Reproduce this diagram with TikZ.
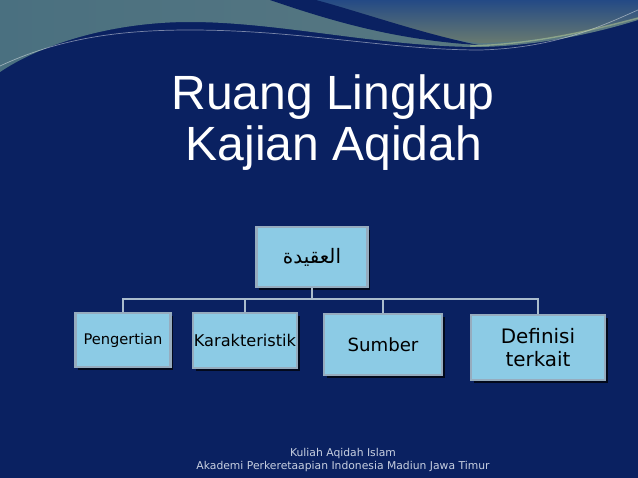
\documentclass[tikz,border=0pt]{standalone}
\usepackage{fontspec}
\setmainfont{DejaVu Sans}
\newfontfamily\titlefont{Liberation Sans}
\newfontfamily\arabicfont[Script=Arabic]{DejaVu Sans}
\TeXXeTstate=1
\usetikzlibrary{shadows}
\definecolor{navy}{RGB}{10,33,97}
\definecolor{boxfill}{RGB}{140,203,229}
\definecolor{boxline}{RGB}{150,172,190}
\definecolor{linkcol}{RGB}{170,188,205}
\definecolor{footcol}{RGB}{200,208,225}
\definecolor{streak}{RGB}{190,210,150}
\begin{document}
\begin{tikzpicture}[x=0.03cm,y=-0.03cm,
    box/.style={draw=boxline,line width=2pt,fill=boxfill,inner sep=1pt,
      drop shadow={shadow xshift=2.5pt,shadow yshift=-2.5pt,opacity=.7,fill=black}},
    link/.style={draw=linkcol,line width=1.2pt}]
    \useasboundingbox (0,0) rectangle (638,478);
    \fill[navy] (0,0) rectangle (638,478);

    % top band
    \shade[left color={rgb,255:red,74;green,112;blue,128},right color={rgb,255:red,92;green,122;blue,130}]
      (0,0) -- (638,0) -- (638,20) .. controls (600,32) and (540,46) .. (480,47)
      .. controls (380,47) and (280,22) .. (190,22) .. controls (110,22) and (40,45) .. (0,72) -- cycle;
    \shade[top color={rgb,255:red,36;green,74;blue,133},bottom color={rgb,255:red,104;green,122;blue,112}]
      (300,0) -- (638,0) -- (638,18) .. controls (600,30) and (540,42) .. (480,43)
      .. controls (420,36) and (360,15) .. (300,0) -- cycle;
    \fill[navy] (270,0) .. controls (340,24) and (400,40) .. (478,45)
      .. controls (420,33) and (364,13) .. (316,0) -- cycle;
    \draw[white,opacity=.45,line width=.6pt] (0,66) .. controls (60,38) and (120,30) .. (190,30)
      .. controls (300,30) and (390,50) .. (480,50) .. controls (560,48) and (610,22) .. (638,10);
    \draw[streak,opacity=.5,line width=1.2pt]
      (470,46) .. controls (540,44) and (600,28) .. (638,18);

    % title
    \node[text=white,font=\titlefont\fontsize{41}{48}\selectfont,anchor=base] (title1) at (333,110) {Ruang Lingkup};
    \node[text=white,font=\titlefont\fontsize{41}{48}\selectfont,anchor=base] (title2) at (334,160) {Kajian Aqidah};

    % chart
    \node[box,minimum width=3.33cm,minimum height=1.8cm,font=\fontsize{17}{20}\selectfont] (aqidah) at (312,257) {\arabicfont\beginR العقيدة\endR};
    \node[box,minimum width=2.85cm,minimum height=1.62cm,font=\fontsize{12.5}{15}\selectfont] (pengertian) at (123,340) {Pengertian};
    \node[box,minimum width=3.12cm,minimum height=1.65cm,font=\fontsize{13.8}{16}\selectfont] (karakter) at (245,340.5) {Karakteristik};
    \node[box,minimum width=3.54cm,minimum height=1.83cm,font=\fontsize{15.5}{18}\selectfont] (sumber) at (383,344.5) {Sumber};
    \node[box,minimum width=4.02cm,minimum height=1.95cm,align=center,font=\fontsize{17}{20}\selectfont] (definisi) at (538,347.5) {Definisi\\terkait};

    \coordinate (bus) at (312,299);
    \foreach \c in {pengertian,karakter,sumber,definisi}
      \draw[link] (aqidah.south) -- (bus) -| (\c.north);

    % footer
    \node[text=footcol,font=\fontsize{9.2}{11}\selectfont,align=center] (foot) at (343,460)
      {Kuliah Aqidah Islam\\Akademi Perkeretaapian Indonesia Madiun Jawa Timur};
  \end{tikzpicture}
\end{document}
